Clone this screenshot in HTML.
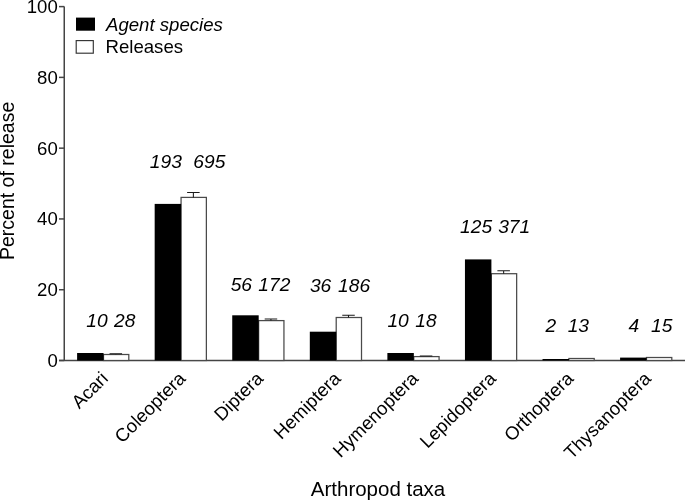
<!DOCTYPE html>
<html><head><meta charset="utf-8"><style>html,body{margin:0;padding:0;background:#fff;overflow:hidden}svg{display:block}</style></head><body>
<svg width="685" height="500" viewBox="0 0 685 500">
<g stroke="#444" stroke-width="1.5" fill="none">
<line x1="64.25" y1="6.5" x2="64.25" y2="360.5"/>
<line x1="59" y1="360.5" x2="685" y2="360.5"/>
<line x1="59" y1="360.50" x2="64.25" y2="360.50"/>
<line x1="59" y1="289.72" x2="64.25" y2="289.72"/>
<line x1="59" y1="218.94" x2="64.25" y2="218.94"/>
<line x1="59" y1="148.16" x2="64.25" y2="148.16"/>
<line x1="59" y1="77.38" x2="64.25" y2="77.38"/>
<line x1="59" y1="6.60" x2="64.25" y2="6.60"/>
</g>
<g font-family="'Liberation Sans', Arial, sans-serif" font-size="18.6" text-anchor="end" fill="#000">
<text x="57.8" y="367.00">0</text>
<text x="57.8" y="296.22">20</text>
<text x="57.8" y="225.44">40</text>
<text x="57.8" y="154.66">60</text>
<text x="57.8" y="83.88">80</text>
<text x="57.8" y="13.10">100</text>
</g>
<rect x="103.50" y="354.5" width="25.3" height="6.00" fill="#fff" stroke="#4a4a4a" stroke-width="1.25"/>
<rect x="181.07" y="197.4" width="25.3" height="163.10" fill="#fff" stroke="#4a4a4a" stroke-width="1.25"/>
<rect x="258.64" y="320.6" width="25.3" height="39.90" fill="#fff" stroke="#4a4a4a" stroke-width="1.25"/>
<rect x="336.21" y="317.5" width="25.3" height="43.00" fill="#fff" stroke="#4a4a4a" stroke-width="1.25"/>
<rect x="413.78" y="356.6" width="25.3" height="3.90" fill="#fff" stroke="#4a4a4a" stroke-width="1.25"/>
<rect x="491.35" y="273.7" width="25.3" height="86.80" fill="#fff" stroke="#4a4a4a" stroke-width="1.25"/>
<rect x="568.92" y="358.5" width="25.3" height="2.00" fill="#fff" stroke="#4a4a4a" stroke-width="1.25"/>
<rect x="646.49" y="357.5" width="25.3" height="3.00" fill="#fff" stroke="#4a4a4a" stroke-width="1.25"/>
<rect x="77.10" y="353" width="26.45" height="7.50" fill="#000"/>
<rect x="154.67" y="203.9" width="26.45" height="156.60" fill="#000"/>
<rect x="232.24" y="315.3" width="26.45" height="45.20" fill="#000"/>
<rect x="309.81" y="331.7" width="26.45" height="28.80" fill="#000"/>
<rect x="387.38" y="353" width="26.45" height="7.50" fill="#000"/>
<rect x="464.95" y="259.4" width="26.45" height="101.10" fill="#000"/>
<rect x="542.52" y="359" width="26.45" height="1.50" fill="#000"/>
<rect x="620.09" y="357.6" width="26.45" height="2.90" fill="#000"/>
<path d="M109.55 353.7H122.05M115.80 353.7V354.5" stroke="#1a1a1a" stroke-width="1.05" fill="none"/>
<path d="M187.12 192.4H199.62M193.37 192.4V197.4" stroke="#1a1a1a" stroke-width="1.05" fill="none"/>
<path d="M264.69 318.9H277.19M270.94 318.9V320.6" stroke="#1a1a1a" stroke-width="1.05" fill="none"/>
<path d="M342.26 315.3H354.76M348.51 315.3V317.5" stroke="#1a1a1a" stroke-width="1.05" fill="none"/>
<path d="M419.83 356H432.33M426.08 356V356.6" stroke="#1a1a1a" stroke-width="1.05" fill="none"/>
<path d="M497.40 270.7H509.90M503.65 270.7V273.7" stroke="#1a1a1a" stroke-width="1.05" fill="none"/>
<g font-family="'Liberation Sans', Arial, sans-serif" font-size="18.6" text-anchor="end" fill="#000">
<text transform="translate(109.10,379.6) rotate(-45)">Acari</text>
<text transform="translate(186.67,379.6) rotate(-45)">Coleoptera</text>
<text transform="translate(264.24,379.6) rotate(-45)">Diptera</text>
<text transform="translate(341.81,379.6) rotate(-45)">Hemiptera</text>
<text transform="translate(419.38,379.6) rotate(-45)">Hymenoptera</text>
<text transform="translate(496.95,379.6) rotate(-45)">Lepidoptera</text>
<text transform="translate(574.52,379.6) rotate(-45)">Orthoptera</text>
<text transform="translate(652.09,379.6) rotate(-45)">Thysanoptera</text>
</g>
<g font-family="'Liberation Sans', Arial, sans-serif" font-size="19.2" font-style="italic" fill="#000">
<text x="86.30" y="327.25">10</text>
<text x="114.05" y="327.25">28</text>
<text x="149.80" y="167.85">193</text>
<text x="193.35" y="167.85">695</text>
<text x="230.70" y="290.60">56</text>
<text x="258.35" y="290.60">172</text>
<text x="309.90" y="291.80">36</text>
<text x="338.10" y="291.80">186</text>
<text x="387.40" y="326.85">10</text>
<text x="415.25" y="326.85">18</text>
<text x="460.10" y="233.30">125</text>
<text x="498.20" y="233.30">371</text>
<text x="545.60" y="331.55">2</text>
<text x="567.70" y="331.55">13</text>
<text x="628.60" y="332.05">4</text>
<text x="651.00" y="332.05">15</text>
</g>
<rect x="76" y="17.6" width="19" height="13.1" fill="#000"/>
<rect x="76.2" y="40.6" width="17.1" height="12.6" fill="#fff" stroke="#333" stroke-width="1.15"/>
<text x="106" y="30.5" font-family="'Liberation Sans', Arial, sans-serif" font-size="18.6" font-style="italic">Agent species</text>
<text x="105.5" y="53.1" font-family="'Liberation Sans', Arial, sans-serif" font-size="18.6">Releases</text>
<text x="310.8" y="495.8" font-family="'Liberation Sans', Arial, sans-serif" font-size="20.5">Arthropod taxa</text>
<text transform="translate(14.3,260) rotate(-90)" font-family="'Liberation Sans', Arial, sans-serif" font-size="19.5">Percent of release</text>
</svg>
</body></html>
